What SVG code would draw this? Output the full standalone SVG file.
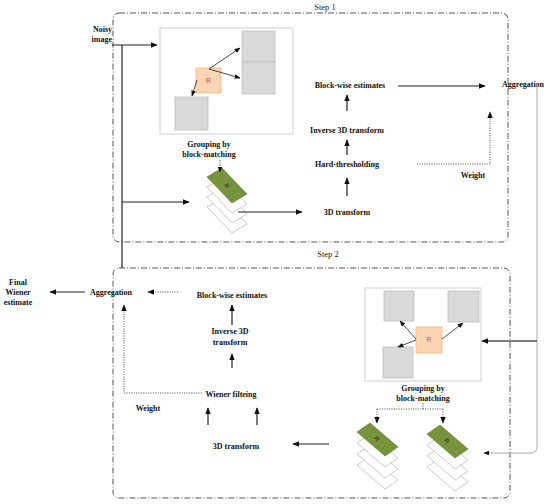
<svg xmlns="http://www.w3.org/2000/svg" width="550" height="504" viewBox="0 0 550 504">
<style>
.t{font-family:"Liberation Serif","Times New Roman",serif;font-weight:bold;font-size:8px;fill:#111;text-anchor:middle}
.s{font-family:"Liberation Serif","Times New Roman",serif;font-size:8.5px;fill:#222;text-anchor:middle}
.step{fill:none;stroke:#555;stroke-width:1;stroke-dasharray:6,2,1,2}
.frame{fill:#fff;stroke:#d0d0d0;stroke-width:1}
.gray{fill:#d9d9d9;stroke:#bfbfbf;stroke-width:0.8}
.ref{fill:#fcd5b5;stroke:#f4b183;stroke-width:0.8}
.rt{font-family:"Liberation Sans",Arial,sans-serif;font-size:7px;fill:#c0504d;text-anchor:middle}
.lay{fill:#fff;stroke:#bbb;stroke-width:0.8}
.grn{fill:#77933c;stroke:#5a7030;stroke-width:0.6}
.gt{font-family:"Liberation Sans",Arial,sans-serif;font-size:6px;fill:#222;text-anchor:middle}
.c{fill:none;stroke:#222;stroke-width:1.2}
.thin{fill:none;stroke:#222;stroke-width:0.8}
.dot{fill:none;stroke:#555;stroke-width:0.9;stroke-dasharray:1.2,1.2}
</style>
<defs>
<marker id="a" viewBox="0 0 10 8" refX="9" refY="4" markerWidth="7" markerHeight="5.6" markerUnits="userSpaceOnUse" orient="auto"><path d="M0,0 L10,4 L0,8 Z" fill="#111"/></marker>
<marker id="as" viewBox="0 0 10 8" refX="9" refY="4" markerWidth="6" markerHeight="4.8" markerUnits="userSpaceOnUse" orient="auto"><path d="M0,0 L10,4 L0,8 Z" fill="#111"/></marker>
<polygon id="p1" points="0,0 15,-9 40,17 25,26"/>
<polygon id="p2" points="0,0 13,-9 41,15 28,24"/>
</defs>

<g id="step1">
<rect class="step" x="113" y="13" width="395" height="229" rx="6"/>
<text class="s" x="325" y="10">Step 1</text>
</g>
<g id="step2">
<rect class="step" x="113" y="268" width="397" height="230" rx="6"/>
<text class="s" x="328" y="257">Step 2</text>
</g>

<g id="noisy">
<text class="t" x="112" y="32" style="text-anchor:end">Noisy</text>
<text class="t" x="112" y="42" style="text-anchor:end">image</text>
</g>

<g id="grouping1">
<rect class="frame" x="160" y="28" width="133" height="106"/>
<rect class="gray" x="242" y="31" width="33" height="31"/>
<rect class="gray" x="242" y="62" width="33" height="32"/>
<rect class="gray" x="175" y="97" width="33" height="33"/>
<rect class="ref" x="196" y="68" width="25" height="25"/>
<text class="rt" x="208.5" y="83">R</text>
<path class="thin" d="M209,69 L240,48" marker-end="url(#as)"/>
<path class="thin" d="M209,69 L240,78" marker-end="url(#as)"/>
<path class="thin" d="M197,80 L192,96" marker-end="url(#as)"/>
<text class="t" x="209" y="147">Grouping by</text>
<text class="t" x="209" y="157">block-matching</text>
</g>

<g id="stack1">
<use href="#p1" class="lay" x="207" y="207"/>
<use href="#p1" class="lay" x="207" y="197"/>
<use href="#p1" class="lay" x="207" y="187"/>
<use href="#p1" class="grn" x="207" y="177"/>
<text class="gt" x="0" y="0" transform="translate(227,186) rotate(50)" dy="2">R</text>
</g>

<g id="s1-3d"><text class="t" x="347" y="215">3D transform</text></g>
<g id="s1-hard"><text class="t" x="347" y="167">Hard-thresholding</text></g>
<g id="s1-inv"><text class="t" x="347" y="133">Inverse 3D transform</text></g>
<g id="s1-block"><text class="t" x="350" y="88">Block-wise estimates</text></g>
<g id="s1-agg"><text class="t" x="502" y="87" style="text-anchor:start">Aggregation</text></g>
<g id="s1-weight"><text class="t" x="473" y="178">Weight</text></g>

<g id="grouping2">
<rect class="frame" x="365" y="288" width="116" height="93"/>
<rect class="gray" x="384" y="291" width="30" height="30"/>
<rect class="gray" x="448" y="291" width="31" height="31"/>
<rect class="gray" x="383" y="347" width="30" height="31"/>
<rect class="ref" x="416" y="327" width="26" height="26"/>
<text class="rt" x="429" y="342">R</text>
<path class="thin" d="M416,339 L400,321" marker-end="url(#as)"/>
<path class="thin" d="M416,340 L398,347" marker-end="url(#as)"/>
<path class="thin" d="M442,339 L463,323" marker-end="url(#as)"/>
<text class="t" x="423" y="391">Grouping by</text>
<text class="t" x="423" y="401">block-matching</text>
</g>

<g id="stack2a">
<use href="#p2" class="lay" x="357" y="465"/>
<use href="#p2" class="lay" x="357" y="454"/>
<use href="#p2" class="lay" x="357" y="443"/>
<use href="#p2" class="grn" x="357" y="432"/>
<text class="gt" x="0" y="0" transform="translate(377,439) rotate(50)" dy="2">R</text>
</g>
<g id="stack2b">
<use href="#p2" class="lay" x="427" y="467"/>
<use href="#p2" class="lay" x="427" y="456"/>
<use href="#p2" class="lay" x="427" y="445"/>
<use href="#p2" class="grn" x="427" y="434"/>
<text class="gt" x="0" y="0" transform="translate(447,441) rotate(50)" dy="2">R</text>
</g>

<g id="s2-3d"><text class="t" x="236" y="449">3D transform</text></g>
<g id="s2-wiener"><text class="t" x="231" y="397">Wiener filteing</text></g>
<g id="s2-inv"><text class="t" x="230" y="334">Inverse 3D</text><text class="t" x="230" y="345">transform</text></g>
<g id="s2-block"><text class="t" x="232" y="298">Block-wise estimates</text></g>
<g id="s2-agg"><text class="t" x="111" y="295">Aggregation</text></g>
<g id="s2-weight"><text class="t" x="148" y="411">Weight</text></g>
<g id="final"><text class="t" x="18" y="285">Final</text><text class="t" x="18" y="295">Wiener</text><text class="t" x="18" y="305">estimate</text></g>

<g id="connectors">
<path class="c" d="M122,45 V268"/>
<path class="c" d="M112,45 H157" marker-end="url(#a)"/>
<path class="c" d="M122,202 H189" marker-end="url(#a)"/>
<path class="dot" d="M220,160 V172" marker-end="url(#as)"/>
<path class="c" d="M238,212 H302" marker-end="url(#a)"/>
<path class="c" d="M347,196 V178" marker-end="url(#a)"/>
<path class="c" d="M347,155 V140" marker-end="url(#a)"/>
<path class="c" d="M347,111 V95" marker-end="url(#a)"/>
<path class="c" d="M398,86 H485" marker-end="url(#a)"/>
<path class="dot" d="M417,164 H490 V112" marker-end="url(#a)"/>
<path fill="none" stroke="#aaa" stroke-width="1" d="M537,84 V447 Q537,453 531,453 H484" marker-end="url(#as)"/>
<path fill="none" stroke="#555" stroke-width="1.4" d="M537,341 H482" marker-end="url(#a)"/>
<path class="dot" d="M423,403 V409 M377,409 H443"/>
<path class="dot" d="M377,409 V423" marker-end="url(#a)"/>
<path class="dot" d="M443,409 V423" marker-end="url(#a)"/>
<path class="c" d="M329,444 H293" marker-end="url(#a)"/>
<path class="c" d="M208,425 V408" marker-end="url(#a)"/>
<path class="c" d="M257,425 V408" marker-end="url(#a)"/>
<path class="c" d="M232,368 V354" marker-end="url(#a)"/>
<path class="c" d="M232,325 V305" marker-end="url(#a)"/>
<path class="dot" d="M178,292 H148" marker-end="url(#a)"/>
<path class="c" d="M85,292 H50" marker-end="url(#a)"/>
<path class="dot" d="M202,393 H124 V305" marker-end="url(#a)"/>
</g>
</svg>
